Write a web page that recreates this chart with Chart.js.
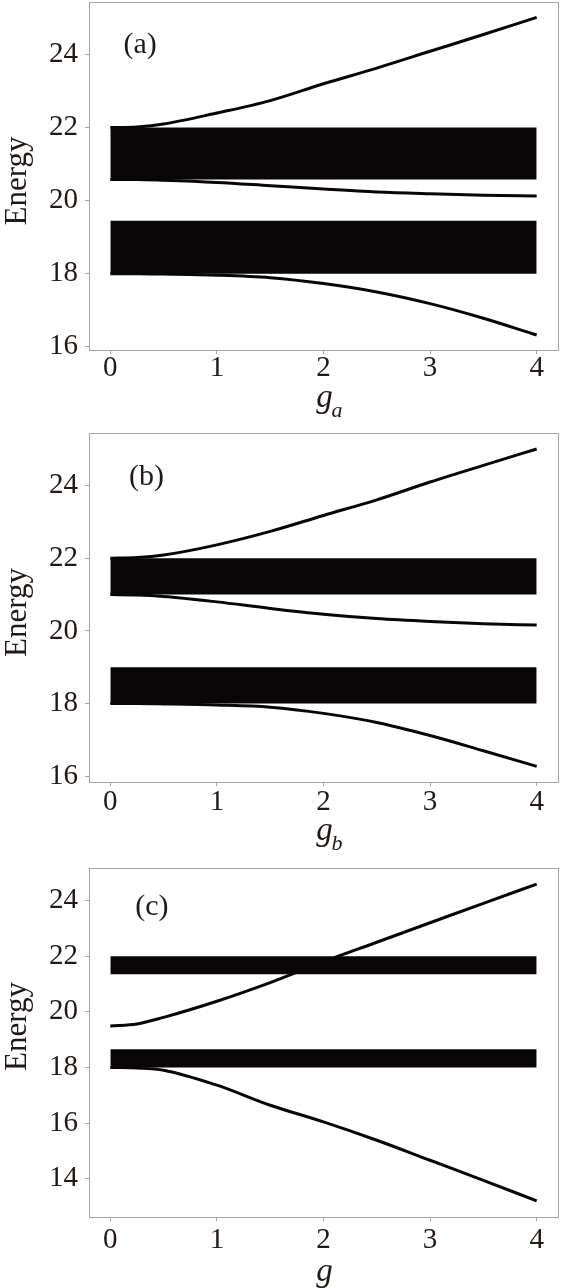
<!DOCTYPE html>
<html>
<head>
<meta charset="utf-8">
<script src="https://cdn.jsdelivr.net/npm/chart.js@4.4.1/dist/chart.umd.min.js"></script>
<style>
  html, body { margin: 0; padding: 0; background: #fff; }
  body { width: 561px; height: 1288px; position: relative; overflow: hidden; }
  canvas { position: absolute; left: 0; }
</style>
</head>
<body>
<canvas id="panelA" width="561" height="420" style="top:0px"></canvas>
<canvas id="panelB" width="561" height="440" style="top:420px"></canvas>
<canvas id="panelC" width="561" height="428" style="top:860px"></canvas>
<script>
// coupling strength samples (x values of the curves)
const gValues = [0, 0.25, 0.5, 1, 1.5, 2, 2.5, 3, 3.5, 4];
const bandX = [0, 4];
const xTicks = [0, 1, 2, 3, 4];
const yTicksAB = [16, 18, 20, 22, 24];
const yTicksC = [14, 16, 18, 20, 22, 24];

// panel (a)
const upperA = [22.0, 22.02, 22.1, 22.4, 22.74, 23.2, 23.63, 24.09, 24.55, 25.02];
const middleA = [20.58, 20.58, 20.56, 20.5, 20.41, 20.32, 20.24, 20.19, 20.15, 20.13];
const lowerA = [18.0, 18.0, 17.99, 17.96, 17.89, 17.73, 17.5, 17.18, 16.78, 16.32];
const bandsA = [[18.0, 19.45], [20.58, 22.0]];

// panel (b)
const upperB = [22.0, 22.02, 22.09, 22.37, 22.74, 23.18, 23.61, 24.1, 24.56, 25.01];
const middleB = [21.0, 20.99, 20.95, 20.8, 20.62, 20.46, 20.34, 20.26, 20.2, 20.16];
const lowerB = [18.0, 18.0, 17.99, 17.96, 17.9, 17.73, 17.48, 17.12, 16.7, 16.27];
const bandsB = [[18.0, 19.0], [21.0, 22.0]];

// panel (c)
const upperC = [19.49, 19.56, 19.8, 20.38, 21.05, 21.8, 22.5, 23.2, 23.9, 24.59];
const lowerC = [18.0, 17.98, 17.9, 17.36, 16.64, 16.04, 15.38, 14.66, 13.94, 13.2];
const bandsC = [[18.0, 18.65], [21.35, 22.0]];

const ink = '#231815';
const fillInk = '#0a0506';
const frameGray = '#a4a4a4';
const serif = '"Liberation Serif", "Times New Roman", serif';

function curve(values) {
    return {
        data: gValues.map((g, i) => ({ x: g, y: values[i] })),
        borderColor: fillInk,
        borderWidth: 3,
        pointRadius: 0,
        fill: false,
        cubicInterpolationMode: 'monotone'
    };
}

function bandSets(bands) {
    const sets = [];
    bands.forEach(b => {
        sets.push({
            data: bandX.map(x => ({ x: x, y: b[0] })),
            borderWidth: 0,
            pointRadius: 0,
            fill: false
        });
        sets.push({
            data: bandX.map(x => ({ x: x, y: b[1] })),
            borderWidth: 0,
            pointRadius: 0,
            backgroundColor: fillInk,
            fill: '-1'
        });
    });
    return sets;
}

// frame, panel tag, y title and x-axis title (g with subscript)
const decor = {
    id: 'decor',
    afterDraw(chart, args, opts) {
        const ctx = chart.ctx;
        const a = chart.chartArea;
        const xs = chart.scales.x, ys = chart.scales.y;
        ctx.save();
        ctx.strokeStyle = frameGray;
        ctx.lineWidth = 1;
        ctx.strokeRect(Math.round(a.left) + 0.5, Math.round(a.top) + 0.5,
            Math.round(a.right - a.left), Math.round(a.bottom - a.top));

        ctx.fillStyle = ink;
        ctx.font = '30px ' + serif;
        ctx.textAlign = 'center';
        ctx.textBaseline = 'middle';
        ctx.fillText(opts.tag, xs.getPixelForValue(opts.tagAt[0]), ys.getPixelForValue(opts.tagAt[1]));

        // y title, shifted a little from the middle like in the original
        ctx.save();
        ctx.translate(18, (a.top + a.bottom) / 2 + opts.titleShift);
        ctx.rotate(-Math.PI / 2);
        ctx.font = '31px ' + serif;
        ctx.fillText('Energy', 0, 0);
        ctx.restore();

        const gx = xs.getPixelForValue(2) + 1;
        const base = a.bottom + opts.titleDrop;
        ctx.textBaseline = 'alphabetic';
        ctx.font = 'italic 33px ' + serif;
        ctx.fillText('g', gx, base);
        if (opts.sub) {
            ctx.textAlign = 'left';
            ctx.font = 'italic 22px ' + serif;
            ctx.fillText(opts.sub, gx + 7, base + 10);
        }
        ctx.restore();
    }
};

function makePanel(id, datasets, yMin, yMax, yTicks, topPad, xHeight, tickPad, deco) {
    new Chart(document.getElementById(id), {
        type: 'line',
        data: { datasets: datasets },
        plugins: [decor],
        options: {
            responsive: false,
            devicePixelRatio: 1,
            animation: false,
            layout: { padding: { top: topPad, right: 3, left: 0, bottom: 0 } },
            plugins: { legend: { display: false }, tooltip: { enabled: false }, decor: deco },
            scales: {
                x: {
                    type: 'linear',
                    min: -0.2,
                    max: 4.2,
                    afterBuildTicks: s => { s.ticks = xTicks.map(v => ({ value: v })); },
                    afterFit: s => { s.height = xHeight; s.paddingLeft = 0; s.paddingRight = 0; },
                    grid: { drawOnChartArea: false, drawTicks: true, tickLength: 4, color: frameGray },
                    border: { display: true, color: frameGray },
                    ticks: { color: ink, padding: tickPad, maxRotation: 0, font: { family: serif, size: 29, lineHeight: 1 } }
                },
                y: {
                    min: yMin,
                    max: yMax,
                    afterBuildTicks: s => { s.ticks = yTicks.map(v => ({ value: v })); },
                    afterFit: s => { s.width = 89; s.paddingTop = 0; s.paddingBottom = 0; },
                    grid: { drawOnChartArea: false, drawTicks: true, tickLength: 4, color: frameGray },
                    border: { display: true, color: frameGray },
                    ticks: { color: ink, padding: 7, font: { family: serif, size: 29, lineHeight: 1 } }
                }
            }
        }
    });
}

makePanel('panelA',
    [...bandSets(bandsA), curve(upperA), curve(middleA), curve(lowerA)],
    15.91, 25.44, yTicksAB, 2, 70, 0,
    { tag: '(a)', tagAt: [0.28, 24.25], sub: 'a', titleDrop: 57, titleShift: 5 });

makePanel('panelB',
    [...bandSets(bandsB), curve(upperB), curve(middleB), curve(lowerB)],
    15.84, 25.45, yTicksAB, 13, 78, 2,
    { tag: '(b)', tagAt: [0.34, 24.23], sub: 'b', titleDrop: 58, titleShift: 5 });

makePanel('panelC',
    [...bandSets(bandsC), curve(upperC), curve(lowerC)],
    12.62, 25.17, yTicksC, 8, 71, 5,
    { tag: '(c)', tagAt: [0.39, 23.78], sub: '', titleDrop: 64, titleShift: -16 });
</script>
</body>
</html>
